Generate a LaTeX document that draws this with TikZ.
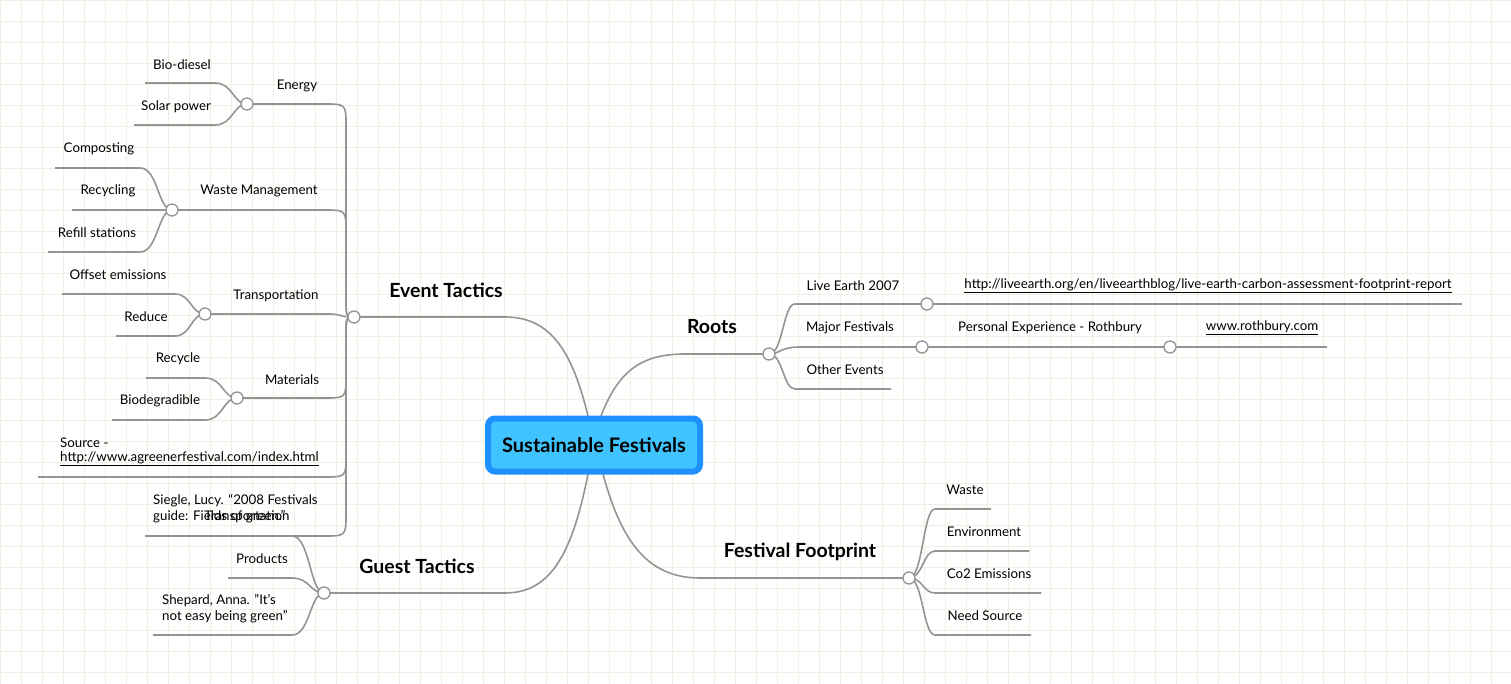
\documentclass[tikz,border=0pt]{standalone}
\usepackage{fontspec}
\setmainfont{Lato}
\begin{document}
\begin{tikzpicture}[x=1pt,y=-1pt,
  br/.style={draw=black!42,line width=1.6pt},
  knob/.style={circle,draw=black!42,line width=1.3pt,fill=white,minimum size=12pt,inner sep=0pt},
  lf/.style={font=\fontsize{13.3}{16}\selectfont,inner sep=0pt,align=left},
  mn/.style={font=\fontsize{19.5}{22}\selectfont\bfseries,inner sep=0pt},
  url/.style={lf}]
\newcommand\cL[5]{% px py xs xe y : left child, long
  \pgfmathsetmacro\s{sign(#2-#5)}
  \draw[br] (#3,#5) -- (#1-30,#5) .. controls (#1-8,#5) .. (#1-8,#5+22*\s) -- (#1-8,#2-22*\s) .. controls (#1-8,#2) .. (#1,#2);}
\newcommand\cS[5]{% short
  \draw[br] (#3,#5) -- (#4,#5) .. controls (#1-14,#5) and (#1-14,#2) .. (#1,#2);}
\newcommand\cR[5]{% px py xs xe y : right child
  \draw[br] (#1,#2) .. controls (#1+14,#2) and (#1+14,#5) .. (#3,#5) -- (#4,#5);}
\useasboundingbox (0,0) rectangle (1511,684);
\fill[white] (0,0) rectangle (1511,684);
\definecolor{gridc}{RGB}{236,242,226}
\foreach \i in {0,21,...,1511} \draw[gridc,line width=0.7pt] (\i,0) -- (\i,684);
\foreach \j in {0,21,...,684} \draw[gridc,line width=0.7pt] (0,\j) -- (1511,\j);
\coordinate (et) at (354,317);
\coordinate (en) at (247,104);
\coordinate (wm) at (172,210);
\coordinate (tr) at (205,314);
\coordinate (ma) at (237,398);
\coordinate (gt) at (324,593);
\coordinate (ro) at (769,354);
\coordinate (le) at (927,304);
\coordinate (mf) at (922,347);
\coordinate (pe) at (1170,347);
\coordinate (ff) at (909,578);
% main branches
\draw[br] (588,416) .. controls (572,350) and (550,317) .. (505,317) -- (et);
\draw[br] (601,416) .. controls (618,372) and (640,354) .. (685,354) -- (ro);
\draw[br] (588,474) .. controls (572,555) and (550,593) .. (505,593) -- (gt);
\draw[br] (603,474) .. controls (622,545) and (650,578) .. (700,578) -- (ff);
% Event tactics children
\cL{354}{317}{247}{0}{104}
\cL{354}{317}{172}{0}{210}
\cS{354}{317}{205}{330}{314}
\cL{354}{317}{237}{0}{398}
\cL{354}{317}{38}{0}{477}
\cL{354}{317}{145}{0}{536}
\cS{247}{104}{145}{215}{83}
\cS{247}{104}{134}{215}{125}
\cS{172}{210}{55}{140}{168}
\draw[br] (72,210) -- (wm);
\cS{172}{210}{48}{140}{252}
\cS{205}{314}{62}{175}{294}
\cS{205}{314}{116}{175}{336}
\cS{237}{398}{146}{205}{378}
\cS{237}{398}{112}{205}{420}
% Guest tactics children
\cS{324}{593}{200}{292}{536}
\cS{324}{593}{228}{292}{578}
\cS{324}{593}{153}{292}{635}
% Roots children
\cR{769}{354}{795}{927}{304}
\draw[br] (le) -- (1462,304);
\draw[br] (ro) .. controls (780,354) and (780,347) .. (800,347) -- (mf) -- (pe) -- (1327,347);
\cR{769}{354}{795}{891}{389}
% Footprint children
\cR{909}{578}{935}{991}{509}
\cR{909}{578}{935}{1029}{551}
\cR{909}{578}{935}{1041}{593}
\cR{909}{578}{935}{1031}{635}
\foreach \k in {et,en,wm,tr,ma,gt,ro,le,mf,pe,ff} \node[knob] at (\k) {};
% center
\node[draw={rgb,255:red,30;green,144;blue,255},line width=6pt,fill={rgb,255:red,64;green,196;blue,255},rounded corners=7pt,minimum width=212pt,minimum height=53pt,font=\fontsize{20}{23}\selectfont\bfseries] (c) at (594,445) {Sustainable Festivals};
\node[mn] (etl) at (446,290) {Event Tactics};
\node[mn] (gtl) at (417,566) {Guest Tactics};
\node[mn] (rol) at (712,327) {Roots};
\node[mn] (ffl) at (800,552) {Festival Footprint};
\node[lf] at (297,86) {Energy};
\node[lf] at (182,65) {Bio-diesel};
\node[lf] at (176,107) {Solar power};
\node[lf] at (259,191) {Waste Management};
\node[lf] at (99,149) {Composting};
\node[lf] at (108,191) {Recycling};
\node[lf] at (97,233) {Refill stations};
\node[lf] at (276,296) {Transportation};
\node[lf] at (118,275) {Offset emissions};
\node[lf] at (146,317) {Reduce};
\node[lf] at (292,380) {Materials};
\node[lf] at (178,359) {Recycle};
\node[lf] at (160,401) {Biodegradible};
\node[lf,anchor=west] at (60,443) {Source -};
\node[lf,anchor=west] at (60,459) {\underline{http://www.agreenerfestival.com/index.html}};
\node[lf,anchor=west] at (153,501) {Siegle, Lucy. “2008 Festivals};
\node[lf,anchor=west] at (153,517) {guide: Fields of green.”};
\node[lf] at (247,517) {Transportation};
\node[lf] at (262,559) {Products};
\node[lf,anchor=west] at (162,601) {Shepard, Anna. "It's};
\node[lf,anchor=west] at (162,617) {not easy being green"};
\node[lf] at (853,286) {Live Earth 2007};
\node[lf] at (1208,286) {\underline{http://liveearth.org/en/liveearthblog/live-earth-carbon-assessment-footprint-report}};
\node[lf] at (850,328) {Major Festivals};
\node[lf] at (1050,328) {Personal Experience - Rothbury};
\node[lf] at (1262,328) {\underline{www.rothbury.com}};
\node[lf] at (845,370) {Other Events};
\node[lf] at (965,490) {Waste};
\node[lf] at (984,532) {Environment};
\node[lf] at (989,574) {Co2 Emissions};
\node[lf] at (985,616) {Need Source};
\end{tikzpicture}
\end{document}
